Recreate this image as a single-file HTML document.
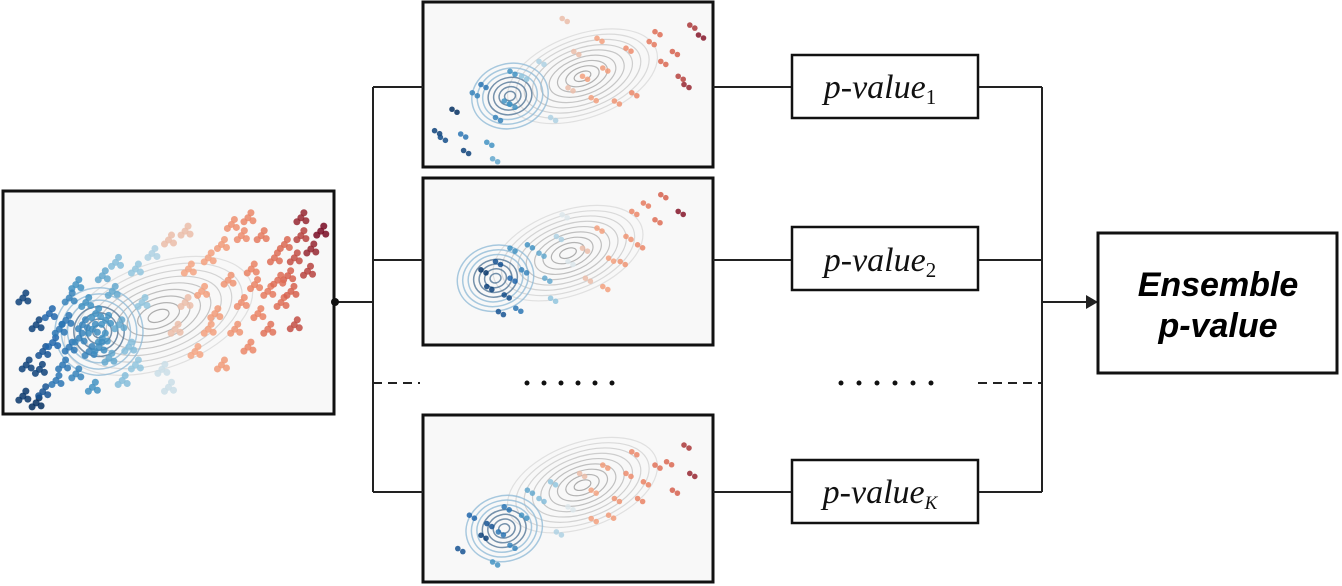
<!DOCTYPE html>
<html><head><meta charset="utf-8"><style>
html,body{margin:0;padding:0;background:#fff;}
svg{display:block}
</style></head><body>
<svg id="fig" width="1342" height="586" viewBox="0 0 1342 586" xmlns="http://www.w3.org/2000/svg">
<g id="plots"></g>
<g stroke="#222" stroke-width="2" fill="none">
  <line x1="335" y1="302" x2="373" y2="302"/>
  <line x1="373" y1="87" x2="373" y2="492"/>
  <line x1="373" y1="87" x2="423" y2="87"/>
  <line x1="373" y1="260" x2="423" y2="260"/>
  <line x1="373" y1="492" x2="423" y2="492"/>
  <line x1="713" y1="87" x2="792" y2="87"/>
  <line x1="713" y1="260" x2="792" y2="260"/>
  <line x1="713" y1="492" x2="792" y2="492"/>
  <line x1="978" y1="87" x2="1042" y2="87"/>
  <line x1="978" y1="260" x2="1042" y2="260"/>
  <line x1="978" y1="492" x2="1042" y2="492"/>
  <line x1="1042" y1="87" x2="1042" y2="492"/>
  <line x1="1042" y1="302" x2="1086" y2="302"/>
  <line x1="373" y1="383" x2="420" y2="383" stroke-dasharray="9,6"/>
  <line x1="978" y1="383" x2="1042" y2="383" stroke-dasharray="9,6"/>
</g>
<circle cx="335" cy="302" r="4" fill="#111"/>
<polygon points="1086,295 1098,302 1086,309" fill="#222"/>
<g fill="#111">
  <circle cx="527" cy="383" r="2.5"/><circle cx="544" cy="383" r="2.5"/><circle cx="561" cy="383" r="2.5"/><circle cx="578" cy="383" r="2.5"/><circle cx="595" cy="383" r="2.5"/><circle cx="612" cy="383" r="2.5"/>
</g>
<g fill="#111">
  <circle cx="841" cy="383" r="2.5"/><circle cx="859" cy="383" r="2.5"/><circle cx="877" cy="383" r="2.5"/><circle cx="895" cy="383" r="2.5"/><circle cx="913" cy="383" r="2.5"/><circle cx="931" cy="383" r="2.5"/>
</g>
<g font-family="'Liberation Serif', serif" font-style="italic" font-size="34" fill="#111" text-anchor="middle">
  <rect x="792" y="55" width="186" height="63" fill="#fff" stroke="#111" stroke-width="2.5"/>
  <text x="880" y="98">p-value<tspan font-style="normal" font-size="21" dy="6">1</tspan></text>
  <rect x="792" y="227" width="186" height="63" fill="#fff" stroke="#111" stroke-width="2.5"/>
  <text x="880" y="271">p-value<tspan font-style="normal" font-size="21" dy="6">2</tspan></text>
  <rect x="792" y="460" width="186" height="63" fill="#fff" stroke="#111" stroke-width="2.5"/>
  <text x="880" y="503">p-value<tspan font-size="19" dy="6">K</tspan></text>
</g>
<rect x="1098" y="233" width="239" height="140" fill="#fff" stroke="#111" stroke-width="3"/>
<text font-family="'Liberation Sans', sans-serif" font-weight="bold" font-style="italic" font-size="34" fill="#000" text-anchor="middle">
  <tspan x="1218" y="296">Ensemble</tspan><tspan x="1218" y="337">p-value</tspan>
</text>
</svg>
<script>
// ---- data (normalized 0..1 positions within plot, c = color value 0 blue .. 1 red) ----
const bigX = [0.06,0.1,0.07,0.11,0.1,0.06,0.12,0.15,0.14,0.17,0.2,0.18,0.22,0.16,0.24,0.26,0.28,0.3,0.25,0.32,0.22,0.2,0.35,0.33,0.27,0.36,0.38,0.12,0.3,0.34,0.4,0.45,0.42,0.4,0.48,0.5,0.5,0.55,0.52,0.56,0.6,0.62,0.58,0.64,0.66,0.68,0.7,0.72,0.72,0.74,0.75,0.77,0.78,0.8,0.82,0.8,0.84,0.85,0.86,0.88,0.9,0.92,0.88,0.9,0.93,0.96,0.66,0.62,0.55,0.74,0.69,0.19,0.23,0.27,0.31,0.29,0.76,0.83,0.87];
const bigY = [0.92,0.95,0.78,0.8,0.6,0.48,0.72,0.68,0.55,0.62,0.7,0.78,0.82,0.85,0.6,0.72,0.55,0.66,0.5,0.75,0.42,0.48,0.6,0.45,0.88,0.85,0.7,0.9,0.38,0.32,0.35,0.28,0.5,0.78,0.8,0.88,0.22,0.18,0.62,0.35,0.45,0.3,0.72,0.55,0.78,0.4,0.62,0.2,0.5,0.7,0.35,0.55,0.2,0.45,0.3,0.62,0.5,0.24,0.38,0.3,0.2,0.36,0.6,0.12,0.26,0.18,0.24,0.62,0.5,0.12,0.15,0.58,0.66,0.62,0.58,0.7,0.42,0.4,0.45];
const bigC = [0.02,0,0.05,0.05,0.05,0.05,0.1,0.15,0.15,0.2,0.2,0.2,0.25,0.2,0.25,0.25,0.3,0.3,0.3,0.35,0.3,0.25,0.35,0.35,0.3,0.4,0.4,0.1,0.35,0.4,0.42,0.45,0.42,0.42,0.48,0.48,0.55,0.55,0.55,0.58,0.6,0.6,0.58,0.62,0.62,0.65,0.65,0.68,0.68,0.7,0.72,0.72,0.75,0.75,0.8,0.78,0.8,0.82,0.85,0.88,0.9,0.9,0.88,0.95,0.95,1,0.62,0.6,0.55,0.7,0.66,0.2,0.25,0.28,0.3,0.28,0.72,0.8,0.85];
const s1X = [0.04,0.06,0.1,0.13,0.14,0.17,0.2,0.25,0.28,0.3,0.22,0.24,0.3,0.34,0.4,0.44,0.5,0.52,0.55,0.6,0.62,0.66,0.7,0.72,0.8,0.86,0.92,0.95,0.88,0.82,0.58,0.48,0.78,0.9];
const s1Y = [0.78,0.82,0.65,0.8,0.9,0.55,0.5,0.7,0.6,0.42,0.85,0.95,0.62,0.45,0.36,0.7,0.52,0.3,0.45,0.22,0.4,0.6,0.28,0.55,0.18,0.3,0.14,0.2,0.45,0.36,0.58,0.1,0.24,0.5];
const s1C = [0.05,0.08,0.0,0.2,0.05,0.25,0.2,0.25,0.3,0.3,0.3,0.35,0.3,0.42,0.45,0.45,0.55,0.55,0.6,0.6,0.62,0.65,0.68,0.7,0.8,0.85,0.92,0.98,0.9,0.82,0.6,0.55,0.75,0.95];
const s2X = [0.2,0.22,0.25,0.28,0.3,0.32,0.26,0.34,0.36,0.4,0.42,0.46,0.5,0.55,0.6,0.64,0.7,0.72,0.76,0.8,0.82,0.88,0.56,0.62,0.68,0.74,0.44,0.3,0.48];
const s2Y = [0.55,0.65,0.5,0.7,0.6,0.78,0.8,0.55,0.4,0.45,0.6,0.35,0.5,0.42,0.3,0.48,0.35,0.2,0.15,0.25,0.1,0.2,0.6,0.65,0.5,0.4,0.72,0.42,0.22];
const s2C = [0.02,0.05,0.1,0.08,0.15,0.2,0.1,0.25,0.3,0.35,0.35,0.45,0.5,0.55,0.6,0.6,0.65,0.7,0.75,0.8,0.85,0.98,0.55,0.6,0.65,0.7,0.42,0.3,0.5];
const s3X = [0.12,0.16,0.2,0.22,0.26,0.28,0.3,0.34,0.36,0.4,0.44,0.5,0.54,0.58,0.62,0.66,0.7,0.72,0.76,0.8,0.84,0.86,0.9,0.92,0.58,0.64,0.74,0.24,0.46];
const s3Y = [0.8,0.6,0.72,0.65,0.7,0.55,0.78,0.6,0.45,0.5,0.4,0.55,0.35,0.45,0.3,0.5,0.35,0.22,0.4,0.3,0.28,0.45,0.18,0.35,0.62,0.6,0.5,0.88,0.7];
const s3C = [0.1,0.15,0.05,0.1,0.2,0.2,0.25,0.3,0.35,0.4,0.42,0.5,0.55,0.58,0.62,0.65,0.68,0.7,0.72,0.78,0.82,0.85,0.92,0.95,0.6,0.62,0.72,0.3,0.45];
// contour centers: [cx, cy] for blue mode and orange mode
const bigModes = [[0.29,0.63],[0.47,0.56]];
const s1Modes = [[0.3,0.57],[0.55,0.45]];
const s2Modes = [[0.25,0.6],[0.5,0.45]];
const s3Modes = [[0.28,0.68],[0.55,0.42]];

const NS = 'http://www.w3.org/2000/svg';
const stops = [[0,[5,48,97]],[0.15,[33,102,172]],[0.3,[67,147,195]],[0.42,[146,197,222]],[0.5,[220,230,235]],[0.58,[244,165,130]],[0.72,[234,130,100]],[0.85,[214,96,77]],[1,[120,10,35]]];
function color(c){
  for(let i=1;i<stops.length;i++){
    if(c<=stops[i][0]){
      const a=stops[i-1],b=stops[i],t=(c-a[0])/(b[0]-a[0]);
      return 'rgb('+a[1].map((v,k)=>Math.round(v+(b[1][k]-v)*t)).join(',')+')';
    }
  }
  return 'rgb(120,10,35)';
}
const jitter=[[0,0],[5,3],[-4,4],[3,-5]];
function drawPlot(name, bx, by, bw, bh, xs, ys, cs, modes, r, copies, orx, ory){
  const root=document.getElementById('plots');
  const g=document.createElementNS(NS,'g');
  
  
  root.appendChild(g);
  const sx=v=>bx+v*bw, sy=v=>by+v*bh;
  const bg=document.createElementNS(NS,'rect');
  bg.setAttribute('x',bx);bg.setAttribute('y',by);bg.setAttribute('width',bw);bg.setAttribute('height',bh);
  bg.setAttribute('fill','#f8f8f8');bg.setAttribute('stroke','#111');bg.setAttribute('stroke-width','3');
  
  
  g.appendChild(bg);
  const [b,o]=modes;
  for(let i=1;i<=9;i++){
    const e=document.createElementNS(NS,'ellipse');
    e.setAttribute('cx',sx(o[0]));e.setAttribute('cy',sy(o[1]));
    e.setAttribute('rx',bw*orx*i);e.setAttribute('ry',bh*ory*i);
    e.setAttribute('transform','rotate(-20 '+sx(o[0])+' '+sy(o[1])+')');
    e.setAttribute('fill','none');e.setAttribute('stroke','#8a8a8a');e.setAttribute('stroke-opacity',(0.75-i*0.06).toFixed(2));e.setAttribute('stroke-width','1.2');
    
    
    g.appendChild(e);
  }
  for(let i=1;i<=7;i++){
    const e=document.createElementNS(NS,'ellipse');
    e.setAttribute('cx',sx(b[0]));e.setAttribute('cy',sy(b[1]));
    e.setAttribute('rx',bw*0.019*i);e.setAttribute('ry',bh*0.028*i);
    e.setAttribute('transform','rotate(-15 '+sx(b[0])+' '+sy(b[1])+')');
    e.setAttribute('fill','none');e.setAttribute('stroke',i<5?'#4a6f92':'#8cb8d6');e.setAttribute('stroke-opacity','0.75');e.setAttribute('stroke-width','1.5');
    
    
    g.appendChild(e);
  }
  for(let i=0;i<xs.length;i++){
    for(let k=0;k<copies;k++){
      const p=document.createElementNS(NS,'circle');
      p.setAttribute('cx',sx(xs[i])+jitter[k][0]);p.setAttribute('cy',sy(ys[i])+jitter[k][1]);p.setAttribute('r',r);
      p.setAttribute('fill',color(cs[i]));p.setAttribute('fill-opacity','0.85');
      
      
      g.appendChild(p);
    }
  }
}
drawPlot('input-scatter-plot',3,191,331,223,bigX,bigY,bigC,bigModes,3.5,4,0.033,0.026);
drawPlot('subsample-plot-1',423,2,290,165,s1X,s1Y,s1C,s1Modes,2.8,2,0.03,0.028);
drawPlot('subsample-plot-2',423,178,290,167,s2X,s2Y,s2C,s2Modes,2.8,2,0.03,0.028);
drawPlot('subsample-plot-k',423,415,290,167,s3X,s3Y,s3C,s3Modes,2.8,2,0.03,0.028);
</script>
</body></html>
